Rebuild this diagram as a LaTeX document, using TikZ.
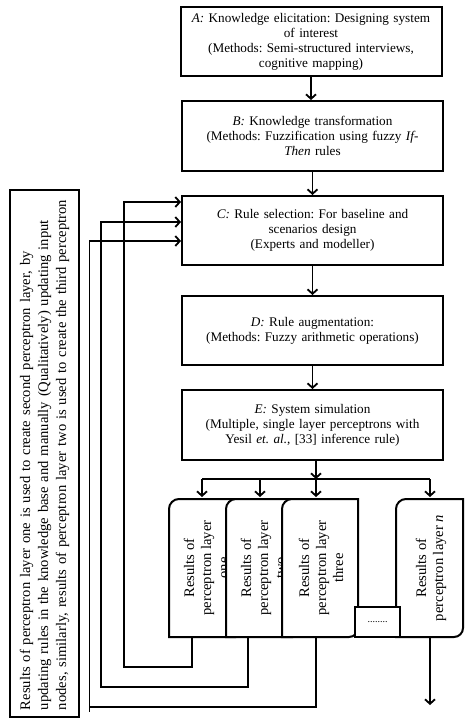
\documentclass[tikz,border=0pt]{standalone}
\usepackage{fontspec}
\setmainfont{Liberation Serif}
\usetikzlibrary{arrows.meta,calc}
\newcommand\pshape[4]{%
  \draw[line width=2pt, fill=white] (#1,-637) -- (#1,{-499-#3}) arc[start angle=180,end angle=90,radius=#3pt] -- (#2,-499) -- (#2,{-637+#4}) arc[start angle=0,end angle=-90,radius=#4pt] -- cycle;}
\begin{document}
\frenchspacing
\begin{tikzpicture}[x=1pt,y=1pt,
  box/.style={draw, line width=2pt, minimum width=261pt, minimum height=69pt, text width=255pt, align=center, inner sep=0pt, font=\fontsize{13.2}{15}\selectfont},
  arr/.style={line width=1.8pt, -{Straight Barb[length=4.5pt,width=10pt]}},
  ln/.style={line width=1.8pt},
  ptext/.style={rotate=90, align=center, inner sep=0pt, font=\fontsize{14.6}{17}\selectfont},
  ltext/.style={rotate=90, draw, line width=2pt, minimum width=527pt, minimum height=69pt, text width=513pt, inner xsep=7pt, inner ysep=0pt, align=left, font=\fontsize{14.6}{18}\selectfont}]
\useasboundingbox (0,0) rectangle (474,-724);
\fill[white] (0,0) rectangle (474,-724);

\node[box] (A) at (311,-41.5) {\textit{A:} Knowledge elicitation: Designing system\\ of interest\\ (Methods: Semi-structured interviews,\\ cognitive mapping)};
\node[box, minimum height=70pt] (B) at (312.5,-136) {\textit{B:} Knowledge transformation\\ (Methods: Fuzzification using fuzzy \textit{If-}\\ \textit{Then} rules};
\node[box] (C) at (312.5,-230.5) {\textit{C:} Rule selection: For baseline and\\ scenarios design\\ (Experts and modeller)};
\node[box] (D) at (312.5,-330.5) {\textit{D:} Rule augmentation:\\ (Methods: Fuzzy arithmetic operations)};
\node[box, minimum height=70pt] (E) at (312.5,-425) {\textit{E:} System simulation\\ (Multiple, single layer perceptrons with\\ Yesil \textit{et. al.}, [33] inference rule)};

\draw[arr] (A.south) -- (A.south |- B.north);
\draw[arr] (B.south) -- (B.south |- C.north);
\draw[arr] (C.south) -- (C.south |- D.north);
\draw[arr] (D.south) -- (D.south |- E.north);

\coordinate (bar) at (316,-479);
\coordinate (bl) at (202,-479);
\coordinate (b2) at (260,-479);
\coordinate (br) at (430,-479);
\draw[arr] (E.south -| bar) -- (bar);
\draw[ln] (bl) -- (br);
\draw[arr] (bl) -- +(0,-18);
\draw[arr] (b2) -- +(0,-18);
\draw[arr] (bar) -- +(0,-18);
\draw[arr] (br) -- +(0,-18);

% perceptron boxes
\pshape{169}{245}{10}{9}
\node[ptext] (P1) at (206,-568) {Results of\\perceptron layer\\one};
\pshape{226}{302}{10}{9}
\node[ptext] (P2) at (263,-568) {Results of\\perceptron layer\\two};
\pshape{282}{358}{10}{9}
\node[ptext] (P3) at (321,-568) {Results of\\perceptron layer\\three};
\pshape{396}{463}{10}{9}
\node[ptext] (Pn) at (431,-568) {Results of\\perceptron layer \textit{n}};
\node[draw, line width=2pt, fill=white, minimum width=45pt, minimum height=30pt, inner sep=0pt, font=\fontsize{10}{12}\selectfont] (dots) at (377.5,-622) {........};

% feedback
\coordinate (f1) at (192,-637);
\coordinate (f2) at (248,-637);
\coordinate (f3) at (316,-637);
\draw[arr] (f1) -- (192,-667) -- (124,-667) -- (124,-202) -- (C.west |- 0,-202);
\draw[arr] (f2) -- (248,-687) -- (101,-687) -- (101,-222) -- (C.west |- 0,-222);
\draw[arr] (f3) -- (316,-707) -- (89.5,-707) -- (89.5,-241) -- (C.west |- 0,-241);
\draw[ln] (89.5,-707) -- (89.5,-712);
\coordinate (fn) at (430,-637);
\draw[arr] (fn) -- (430,-705);

\node[ltext] (L) at (44.5,-453.5) {Results of perceptron layer one is used to create second perceptron layer, by\\ updating rules in the knowledge base and manually (Qualitatively) updating input\\ nodes, similarly, results of perceptron layer two is used to create the third perceptron};
\end{tikzpicture}
\end{document}
